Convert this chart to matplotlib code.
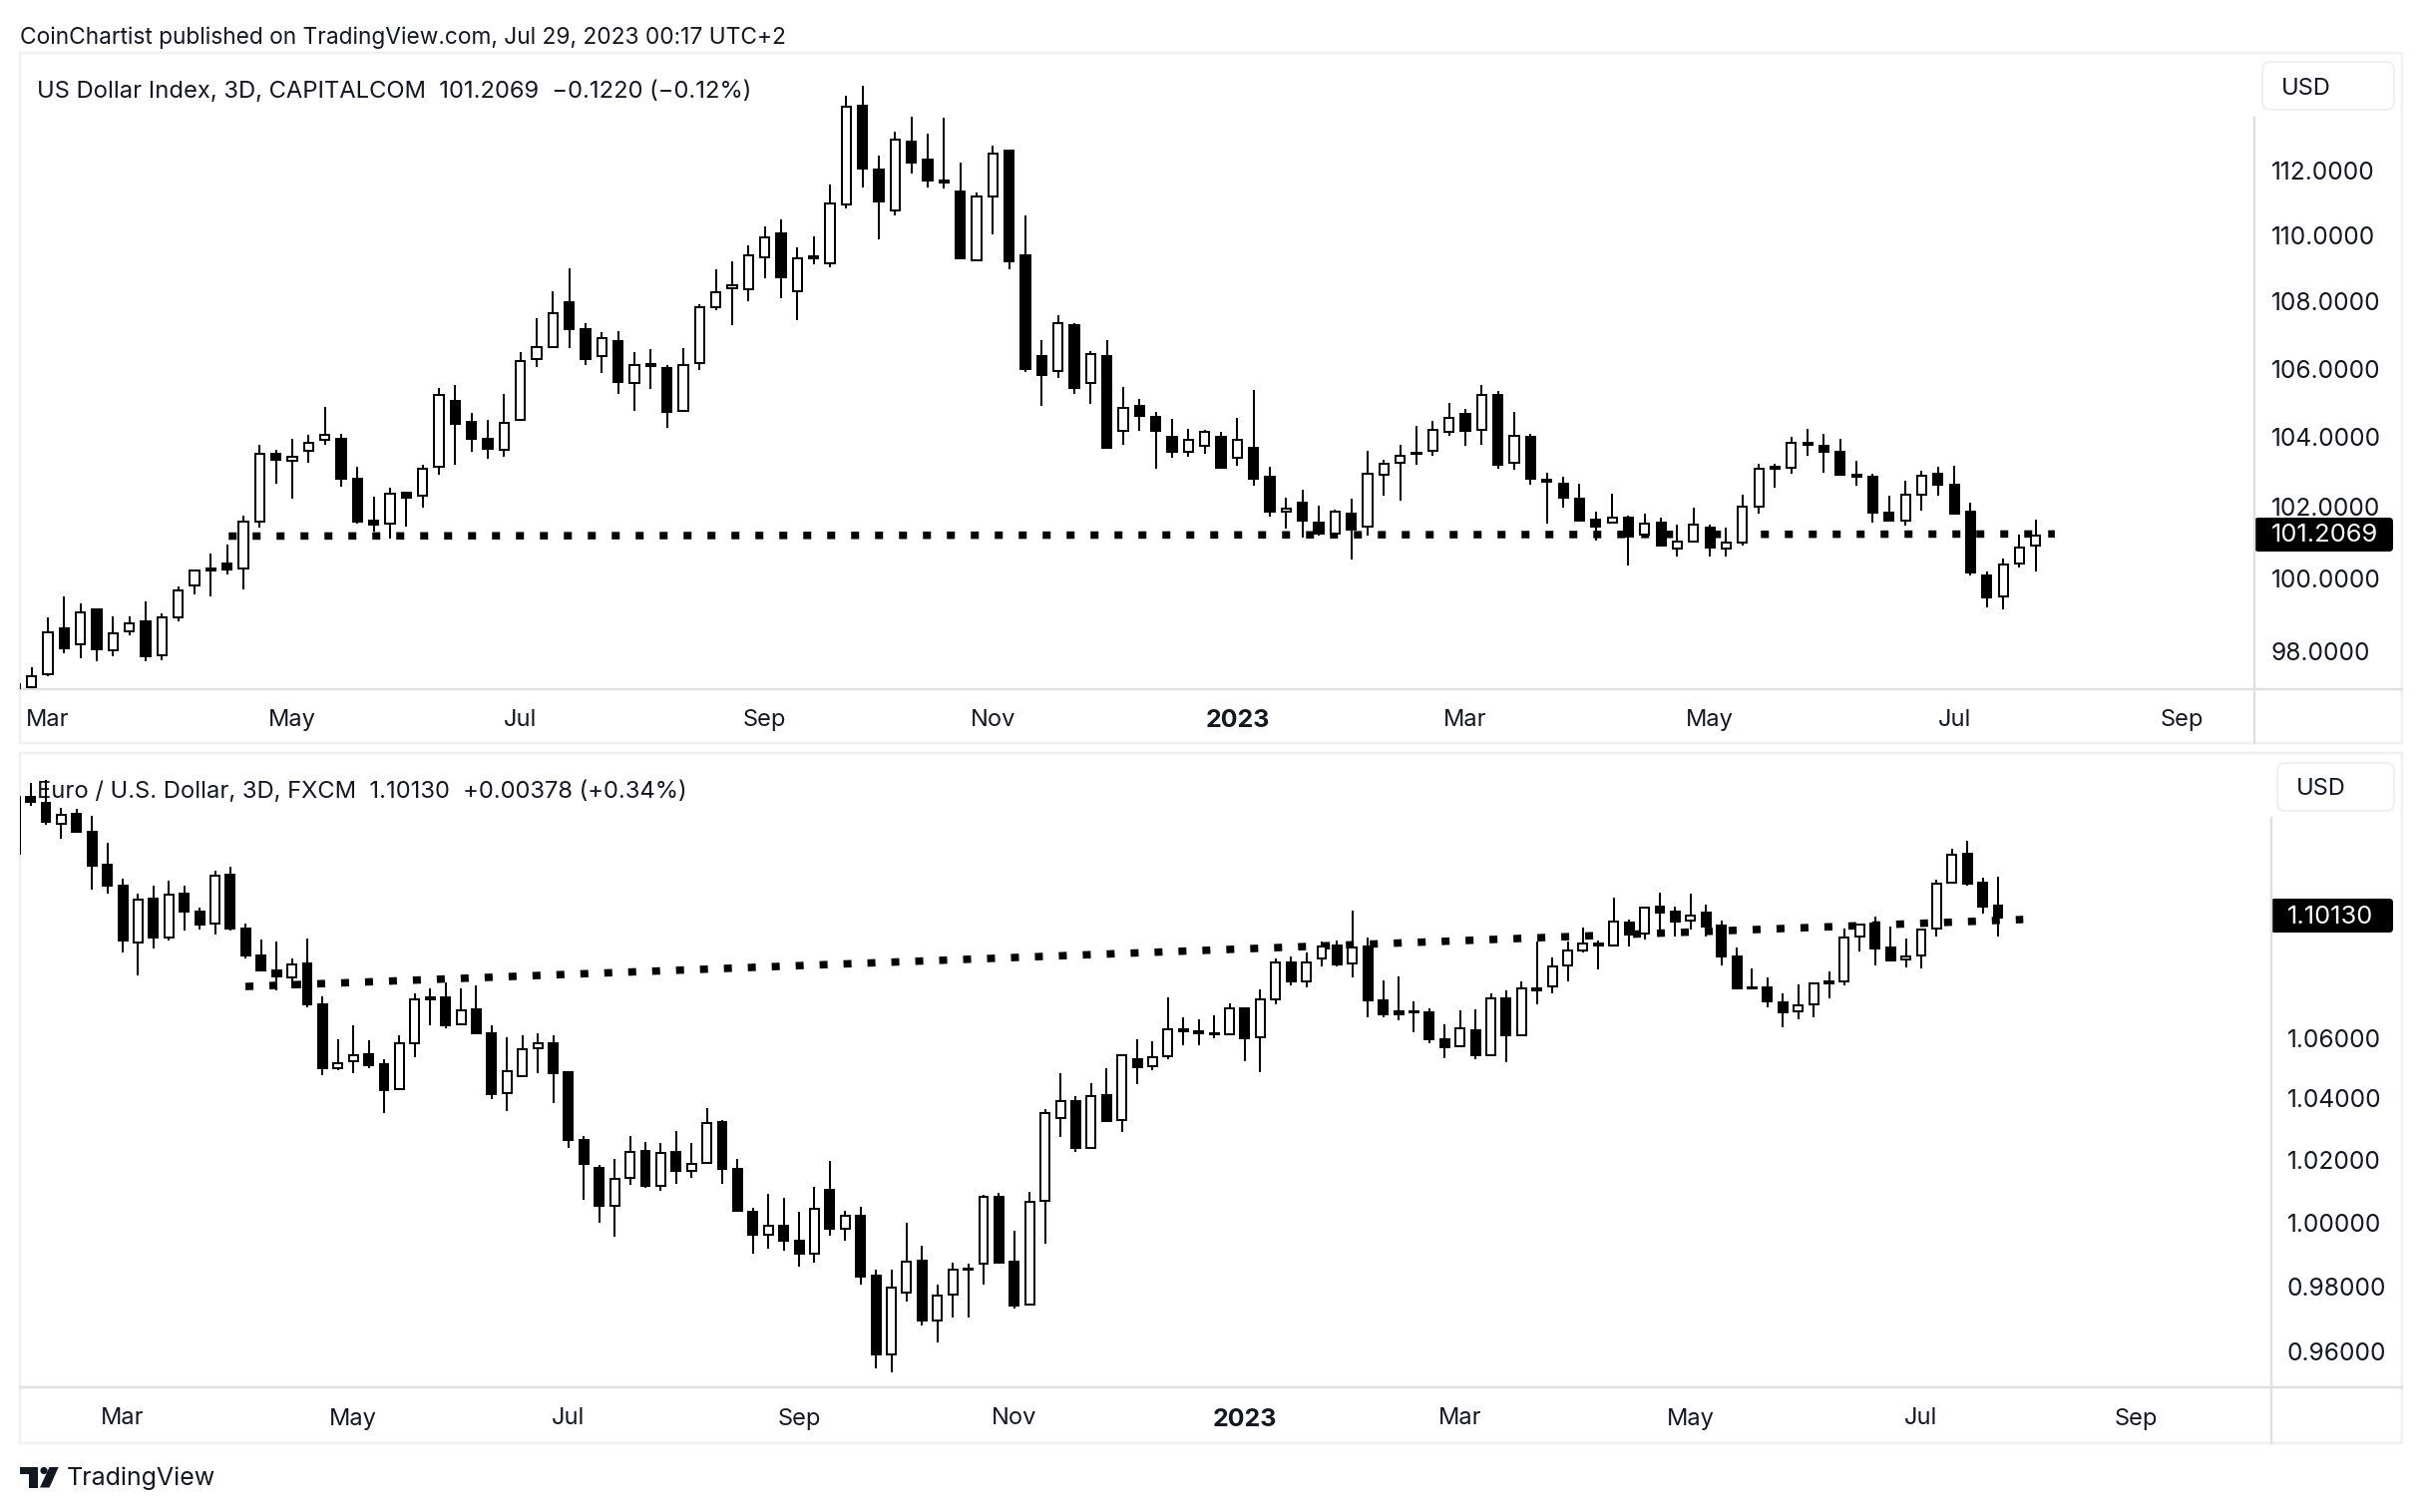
"""Two stacked 3D candle panels: US Dollar Index and EUR/USD."""

import matplotlib
matplotlib.use("Agg")
import matplotlib.pyplot as plt
import numpy as np
from matplotlib.patches import Circle, FancyBboxPatch, Polygon
from matplotlib.ticker import NullFormatter, NullLocator

usd_open = [
    97.10, 97.03, 97.36, 98.62, 98.18, 99.13, 98.01, 98.53, 98.81, 97.89, 98.93,
    99.81, 100.27, 100.41, 100.28, 101.60, 103.52, 103.33, 103.61, 103.93, 103.94,
    102.80, 101.61, 101.52, 102.41, 102.32, 103.15, 105.05, 104.44, 103.94, 103.64,
    104.51, 106.27, 106.64, 107.96, 107.17, 106.38, 106.82, 105.59, 106.14, 106.02,
    104.77, 106.16, 107.81, 108.39, 108.36, 109.34, 110.06, 108.29, 109.35, 109.16,
    110.95, 114.03, 112.03, 110.77, 112.89, 112.33, 111.69, 111.34, 109.25, 111.20,
    112.63, 109.38, 106.37, 105.94, 107.30, 105.59, 106.37, 104.19, 104.91, 104.58,
    104.02, 103.58, 103.76, 104.00, 103.41, 103.69, 102.86, 101.87, 102.12, 101.56,
    101.24, 101.81, 101.46, 102.92, 103.27, 103.55, 103.61, 104.14, 104.67, 104.22,
    105.23, 103.27, 104.02, 102.78, 102.66, 102.24, 101.64, 101.56, 101.70, 101.21,
    101.56, 100.84, 101.04, 101.42, 100.84, 101.01, 102.02, 103.16, 103.13, 103.83,
    103.75, 103.58, 102.92, 102.87, 101.84, 101.62, 102.36, 102.95, 102.64, 101.87,
    100.07, 99.50, 100.42, 100.92,
]
usd_high = [
    97.12, 97.57, 98.93, 99.49, 99.31, 99.16, 98.95, 98.95, 99.35, 99.03, 99.78,
    100.23, 100.68, 100.95, 101.75, 103.77, 103.63, 103.95, 104.06, 104.89, 104.11,
    103.15, 102.30, 102.55, 102.43, 103.21, 105.43, 105.53, 104.70, 104.51, 105.25,
    106.49, 107.51, 108.31, 108.99, 107.35, 107.07, 107.11, 106.49, 106.59, 106.11,
    106.62, 107.90, 108.96, 109.21, 109.68, 110.26, 110.49, 109.63, 109.96, 111.55,
    114.34, 114.66, 112.45, 113.20, 113.70, 113.16, 113.66, 112.25, 111.32, 112.78,
    112.63, 110.61, 106.85, 107.59, 107.36, 106.52, 106.85, 105.47, 105.12, 104.73,
    104.54, 104.23, 104.21, 104.16, 104.57, 105.36, 103.16, 102.27, 102.50, 102.05,
    101.93, 102.25, 103.62, 103.35, 103.78, 104.33, 104.46, 104.98, 104.83, 105.51,
    105.35, 104.72, 104.10, 102.98, 102.85, 102.67, 101.87, 102.38, 101.76, 101.82,
    101.70, 101.51, 101.99, 101.50, 101.43, 102.34, 103.22, 103.24, 104.01, 104.25,
    104.10, 103.96, 103.33, 102.94, 102.33, 102.75, 103.03, 103.15, 103.18, 102.12,
    100.19, 100.55, 101.22, 101.65,
]
usd_low = [
    96.90, 97.03, 97.31, 97.95, 97.80, 97.72, 97.85, 98.43, 97.72, 97.74, 98.80,
    99.54, 99.49, 100.12, 99.68, 101.41, 102.67, 102.23, 103.25, 103.77, 102.58,
    101.53, 101.30, 101.10, 101.46, 101.99, 102.91, 103.20, 103.59, 103.37, 103.43,
    104.48, 106.05, 106.63, 106.62, 106.11, 105.88, 105.26, 104.75, 105.40, 104.28,
    104.77, 105.96, 107.74, 107.28, 108.01, 108.68, 108.10, 107.43, 109.13, 109.04,
    110.82, 111.47, 109.89, 110.62, 111.90, 111.47, 111.43, 109.29, 109.20, 110.04,
    108.98, 105.90, 104.90, 105.73, 105.26, 104.96, 103.68, 103.77, 104.17, 103.09,
    103.40, 103.43, 103.51, 103.09, 103.17, 102.60, 101.74, 101.39, 101.13, 101.19,
    101.22, 100.51, 101.19, 102.31, 102.18, 103.21, 103.45, 104.05, 103.74, 103.77,
    103.09, 103.05, 102.63, 101.53, 101.98, 101.61, 101.05, 101.53, 100.37, 101.15,
    100.91, 100.60, 101.03, 100.60, 100.62, 100.91, 101.80, 102.56, 102.96, 103.46,
    102.99, 102.91, 102.62, 101.57, 101.61, 101.47, 101.91, 102.33, 101.80, 100.09,
    99.19, 99.13, 100.31, 100.18,
]
usd_close = [
    97.00, 97.31, 98.50, 98.07, 99.05, 98.05, 98.48, 98.77, 97.85, 98.91, 99.67,
    100.23, 100.22, 100.24, 101.60, 103.53, 103.34, 103.43, 103.84, 104.07, 102.81,
    101.59, 101.50, 102.37, 102.26, 103.10, 105.22, 104.38, 103.94, 103.65, 104.40,
    106.22, 106.63, 107.65, 107.16, 106.28, 106.89, 105.60, 106.10, 106.07, 104.73,
    106.12, 107.83, 108.28, 108.48, 109.40, 109.94, 108.73, 109.31, 109.30, 110.99,
    114.01, 112.05, 111.03, 112.95, 112.26, 111.68, 111.61, 109.29, 111.18, 112.54,
    109.22, 105.99, 105.81, 107.36, 105.43, 106.42, 103.68, 104.86, 104.61, 104.17,
    103.57, 103.93, 104.14, 103.11, 103.93, 102.80, 101.86, 101.96, 101.61, 101.24,
    101.86, 101.36, 102.96, 103.22, 103.47, 103.51, 104.22, 104.57, 104.17, 105.22,
    103.20, 104.05, 102.80, 102.73, 102.26, 101.63, 101.44, 101.69, 101.16, 101.52,
    100.91, 101.04, 101.50, 100.85, 100.99, 102.00, 103.09, 103.09, 103.83, 103.78,
    103.57, 102.91, 102.87, 101.83, 101.63, 102.34, 102.90, 102.63, 101.80, 100.15,
    99.46, 100.39, 100.85, 101.2069,
]

eur_open = [
    1.1441, 1.1440, 1.1421, 1.1344, 1.1379, 1.1314, 1.1197, 1.1123, 1.0926, 1.1078, 1.0944,
    1.1096, 1.1032, 1.0991, 1.1162, 1.0974, 1.0881, 1.0829, 1.0806, 1.0854, 1.0714,
    1.0501, 1.0522, 1.0546, 1.0513, 1.0431, 1.0584, 1.0739, 1.0738, 1.0647, 1.0697,
    1.0616, 1.0417, 1.0474, 1.0567, 1.0584, 1.0488, 1.0263, 1.0174, 1.0053, 1.0143,
    1.0228, 1.0116, 1.0225, 1.0165, 1.0190, 1.0322, 1.0170, 1.0033, 0.9962, 0.9991,
    0.9942, 0.9902, 1.0103, 0.9980, 1.0021, 0.9832, 0.9592, 0.9781, 0.9880, 0.9695,
    0.9775, 0.9855, 0.9871, 1.0081, 0.9876, 0.9743, 1.0069, 1.0335, 1.0393, 1.0238,
    1.0410, 1.0328, 1.0529, 1.0507, 1.0539, 1.0630, 1.0623, 1.0616, 1.0613, 1.0701,
    1.0603, 1.0733, 1.0857, 1.0793, 1.0872, 1.0915, 1.0853, 1.0912, 1.0728, 1.0691,
    1.0691, 1.0687, 1.0597, 1.0573, 1.0627, 1.0544, 1.0735, 1.0610, 1.0768, 1.0776,
    1.0847, 1.0898, 1.0923, 1.0916, 1.0994, 1.0956, 1.1050, 1.1033, 1.1001, 1.1029,
    1.0984, 1.0877, 1.0773, 1.0771, 1.0720, 1.0691, 1.0713, 1.0794, 1.0794, 1.0946,
    1.0993, 1.0908, 1.0867, 1.0882, 1.0975, 1.1135, 1.1236, 1.1134, 1.1054,
]
eur_high = [
    1.1441, 1.1492, 1.1503, 1.1400, 1.1397, 1.1371, 1.1278, 1.1148, 1.1098, 1.1126, 1.1141,
    1.1123, 1.1047, 1.1178, 1.1190, 1.0993, 1.0936, 1.0931, 1.0871, 1.0939, 1.0742,
    1.0597, 1.0644, 1.0595, 1.0530, 1.0611, 1.0751, 1.0769, 1.0789, 1.0769, 1.0779,
    1.0644, 1.0604, 1.0611, 1.0616, 1.0611, 1.0488, 1.0278, 1.0183, 1.0203, 1.0278,
    1.0258, 1.0255, 1.0294, 1.0255, 1.0369, 1.0330, 1.0203, 1.0046, 1.0092, 1.0078,
    1.0033, 1.0114, 1.0197, 1.0037, 1.0049, 0.9852, 0.9852, 0.9999, 0.9927, 0.9804,
    0.9873, 0.9871, 1.0089, 1.0095, 0.9974, 1.0098, 1.0365, 1.0485, 1.0408, 1.0450,
    1.0501, 1.0547, 1.0598, 1.0591, 1.0738, 1.0669, 1.0665, 1.0678, 1.0719, 1.0701,
    1.0766, 1.0872, 1.0879, 1.0891, 1.0929, 1.0934, 1.1036, 1.0943, 1.0797, 1.0809,
    1.0726, 1.0701, 1.0648, 1.0694, 1.0699, 1.0752, 1.0762, 1.0792, 1.0931, 1.0875,
    1.0931, 1.0978, 1.0932, 1.1083, 1.1006, 1.1052, 1.1100, 1.1051, 1.1097, 1.1057,
    1.1001, 1.0909, 1.0837, 1.0806, 1.0752, 1.0782, 1.0788, 1.0826, 1.0975, 1.0992,
    1.1016, 1.0982, 1.0940, 1.0972, 1.1146, 1.1254, 1.1282, 1.1152, 1.1155,
]
eur_low = [
    1.1238, 1.1408, 1.1340, 1.1289, 1.1314, 1.1112, 1.1098, 1.0890, 1.0812, 1.0907, 1.0932,
    1.0967, 1.0970, 1.0952, 1.0967, 1.0870, 1.0829, 1.0763, 1.0768, 1.0704, 1.0476,
    1.0495, 1.0485, 1.0499, 1.0351, 1.0431, 1.0536, 1.0645, 1.0633, 1.0647, 1.0616,
    1.0399, 1.0360, 1.0474, 1.0485, 1.0386, 1.0238, 1.0073, 0.9998, 0.9954, 1.0120,
    1.0109, 1.0100, 1.0124, 1.0143, 1.0190, 1.0124, 1.0033, 0.9901, 0.9917, 0.9910,
    0.9862, 0.9875, 0.9957, 0.9944, 0.9805, 0.9550, 0.9536, 0.9752, 0.9681, 0.9629,
    0.9705, 0.9705, 0.9805, 0.9873, 0.9731, 0.9743, 0.9934, 1.0273, 1.0225, 1.0238,
    1.0322, 1.0292, 1.0446, 1.0493, 1.0531, 1.0578, 1.0578, 1.0599, 1.0613, 1.0522,
    1.0486, 1.0716, 1.0780, 1.0771, 1.0843, 1.0843, 1.0807, 1.0671, 1.0672, 1.0659,
    1.0619, 1.0582, 1.0535, 1.0569, 1.0529, 1.0544, 1.0519, 1.0610, 1.0716, 1.0750,
    1.0794, 1.0890, 1.0834, 1.0914, 1.0914, 1.0938, 1.0952, 1.0948, 1.0972, 1.0947,
    1.0848, 1.0767, 1.0764, 1.0705, 1.0637, 1.0665, 1.0671, 1.0735, 1.0780, 1.0895,
    1.0848, 1.0864, 1.0840, 1.0838, 1.0947, 1.1134, 1.1126, 1.1028, 1.0948,
]
eur_close = [
    1.1238, 1.1423, 1.1350, 1.1377, 1.1314, 1.1196, 1.1123, 1.0932, 1.1076, 1.0942, 1.1094,
    1.1032, 1.0987, 1.1160, 1.0973, 1.0880, 1.0829, 1.0810, 1.0852, 1.0714, 1.0499,
    1.0518, 1.0544, 1.0511, 1.0429, 1.0582, 1.0732, 1.0733, 1.0645, 1.0695, 1.0616,
    1.0415, 1.0491, 1.0565, 1.0582, 1.0485, 1.0263, 1.0186, 1.0052, 1.0140, 1.0227,
    1.0115, 1.0224, 1.0163, 1.0187, 1.0321, 1.0170, 1.0036, 0.9960, 0.9990, 0.9942,
    0.9901, 1.0042, 0.9980, 1.0020, 0.9831, 0.9590, 0.9797, 0.9878, 0.9694, 0.9773,
    0.9851, 0.9852, 1.0080, 0.9875, 0.9742, 1.0067, 1.0351, 1.0392, 1.0237, 1.0409,
    1.0327, 1.0542, 1.0505, 1.0538, 1.0629, 1.0623, 1.0616, 1.0613, 1.0700, 1.0601,
    1.0730, 1.0856, 1.0791, 1.0856, 1.0914, 1.0852, 1.0910, 1.0727, 1.0679, 1.0679,
    1.0687, 1.0597, 1.0571, 1.0635, 1.0542, 1.0734, 1.0609, 1.0767, 1.0762, 1.0845,
    1.0897, 1.0921, 1.0915, 1.0997, 1.0955, 1.1049, 1.1031, 1.1000, 1.1021, 1.0983,
    1.0877, 1.0769, 1.0767, 1.0723, 1.0689, 1.0712, 1.0784, 1.0784, 1.0945, 1.0989,
    1.0907, 1.0865, 1.0879, 1.0972, 1.1133, 1.1235, 1.1133, 1.1052, 1.1013,
]

month_labels = ["Mar", "May", "Jul", "Sep", "Nov", "2023", "Mar", "May", "Jul", "Sep"]
usd_month_bars = [1, 16, 30, 45, 59, 74, 88, 103, 118, 132]
eur_month_bars = [6, 21, 35, 50, 64, 79, 93, 108, 123, 137]

usd_ticks = [98, 100, 102, 104, 106, 108, 110, 112]
eur_ticks = [0.96, 0.98, 1.00, 1.02, 1.04, 1.06]

usd_trend_bars = [12.10, 124.17]
usd_trend_price = [101.18, 101.24]
eur_trend_bars = [13.98, 129.64]
eur_trend_price = [1.0775, 1.1006]

W, H = 2428, 1516
DPI = 200
INK = "#131722"
FRAME = "#f0f0f4"
AXIS = "#e0e0e0"
FONT = "Inter"
PX = 72 / DPI


def draw_candles(ax, o, h, l, c, width):
    o, h, l, c = map(np.array, (o, h, l, c))
    x = np.arange(len(o)) - 1
    ax.vlines(x, l, h, color="black", lw=2 * PX, zorder=2)
    falling = c < o
    ax.bar(x, np.abs(c - o), bottom=np.minimum(o, c), width=width,
           color=np.where(falling, "black", "white"), edgecolor="black",
           linewidth=2 * PX, zorder=3)


def price_panel(fig, box, xlim, ylim, ticks, tick_fmt, month_bars, pad_px):
    left, top, right, bottom = box
    ax = fig.add_axes([left / W, 1 - bottom / H, (right - left) / W, (bottom - top) / H],
                      zorder=2)
    ax.patch.set_visible(False)
    ax.set_yscale("log")
    ax.set_xlim(*xlim)
    ax.set_ylim(*ylim)
    for s in ax.spines.values():
        s.set_visible(False)
    ax.yaxis.tick_right()
    ax.set_yticks(ticks)
    ax.set_yticklabels([tick_fmt.format(t) for t in ticks], fontsize=8.8, color=INK, family=FONT)
    ax.yaxis.set_minor_locator(NullLocator())
    ax.yaxis.set_minor_formatter(NullFormatter())
    ax.set_xticks(month_bars)
    ax.set_xticklabels(month_labels, fontsize=8.5, color=INK, family=FONT)
    ax.get_xticklabels()[5].set_fontweight("bold")
    ax.get_xticklabels()[5].set_fontsize(9)
    ax.tick_params(axis="y", length=0, pad=pad_px * PX)
    ax.tick_params(axis="x", length=0, pad=20.5 * PX)
    return ax


def chrome(fig):
    bg = fig.add_axes([0, 0, 1, 1], zorder=0)
    bg.set_xlim(0, W)
    bg.set_ylim(H, 0)
    bg.axis("off")

    # pane frames and axis separators
    for top, bottom in [(53, 745), (755, 1447)]:
        bg.plot([20, 2408, 2408, 20, 20], [top, top, bottom, bottom, top], color=FRAME, lw=2.5 * PX)
    bg.plot([20, 2408], [690.5, 690.5], color=AXIS, lw=2.5 * PX)
    bg.plot([2260, 2260], [118, 745], color=AXIS, lw=2.5 * PX)
    bg.plot([20, 2408], [1391, 1391], color=AXIS, lw=2.5 * PX)
    bg.plot([2277, 2277], [820, 1447], color=AXIS, lw=2.5 * PX)

    # currency buttons
    for x0, y0, x1, y1, tx, ty in [(2268, 62, 2400, 110, 2287, 89), (2283, 765, 2400, 813, 2302, 791)]:
        bg.add_patch(FancyBboxPatch((x0 + 8, y0 + 8), x1 - x0 - 16, y1 - y0 - 16,
                                    boxstyle="round,pad=8", fc="white", ec=FRAME, lw=2 * PX))
        bg.text(tx, ty, "USD", fontsize=8.5, color=INK, family=FONT, va="center")

    # last price badges
    for x0, y0, x1, y1 in [(2260, 519, 2399, 553), (2276, 901, 2399, 935)]:
        bg.add_patch(FancyBboxPatch((x0 + 4, y0 + 4), x1 - x0 - 8, y1 - y0 - 8,
                                    boxstyle="round,pad=4", fc="black", ec="none"))

    bg.text(20, 37.5, "CoinChartist published on TradingView.com, Jul 29, 2023 00:17 UTC+2",
            fontsize=8.2, color=INK, family=FONT, va="center")
    bg.text(37, 92, "US Dollar Index, 3D, CAPITALCOM  101.2069  \u22120.1220 (\u22120.12%)",
            fontsize=8.55, color=INK, family=FONT, va="center")
    bg.text(37, 794, "Euro / U.S. Dollar, 3D, FXCM  1.10130  +0.00378 (+0.34%)",
            fontsize=8.55, color=INK, family=FONT, va="center")

    # TradingView logo
    bg.add_patch(Polygon([(19.5, 1471), (38, 1471), (38, 1491.5), (29, 1491.5), (29, 1478), (19.5, 1478)],
                         fc=INK, ec="none"))
    bg.add_patch(Circle((44, 1474.5), 3.6, fc=INK, ec="none"))
    bg.add_patch(Polygon([(49.5, 1471), (58.7, 1471), (49.5, 1491.5), (40, 1491.5)], fc=INK, ec="none"))
    bg.text(67, 1482, "TradingView", fontsize=9.0, color=INK, family=FONT, va="center")


def main():
    fig = plt.figure(figsize=(W / DPI, H / DPI), dpi=DPI, facecolor="white")
    chrome(fig)

    ax_usd = price_panel(fig, (20, 53, 2260, 690.5), (-0.710, 136.42), (96.98, 115.72),
                         usd_ticks, "{:.4f}", usd_month_bars, 17)
    ax_usd.plot(usd_trend_bars, usd_trend_price, color="black", lw=7.5 * PX,
                ls=(0, (1.067, 2.133)), dash_capstyle="butt", zorder=1)
    draw_candles(ax_usd, usd_open, usd_high, usd_low, usd_close, 0.56)
    ax_usd.annotate(f"{usd_close[-1]:.4f}", xy=(1, usd_close[-1]), xycoords=ax_usd.get_yaxis_transform(),
                    xytext=(17 * PX, 0), textcoords="offset points", color="white",
                    fontsize=9.2, family=FONT, va="center", zorder=5)

    ax_eur = price_panel(fig, (20, 755, 2277, 1391), (-0.688, 145.78), (0.9492, 1.1601),
                         eur_ticks, "{:.5f}", eur_month_bars, 16)
    ax_eur.plot(eur_trend_bars, eur_trend_price, color="black", lw=7.5 * PX,
                ls=(0, (1.067, 2.133)), dash_capstyle="butt", zorder=1)
    draw_candles(ax_eur, eur_open, eur_high, eur_low, eur_close, 0.58)
    ax_eur.annotate(f"{eur_close[-1]:.5f}", xy=(1, eur_close[-1]), xycoords=ax_eur.get_yaxis_transform(),
                    xytext=(16 * PX, 0), textcoords="offset points", color="white",
                    fontsize=9.2, family=FONT, va="center", zorder=5)

    fig.savefig("out.png", dpi=DPI)


if __name__ == "__main__":
    main()
